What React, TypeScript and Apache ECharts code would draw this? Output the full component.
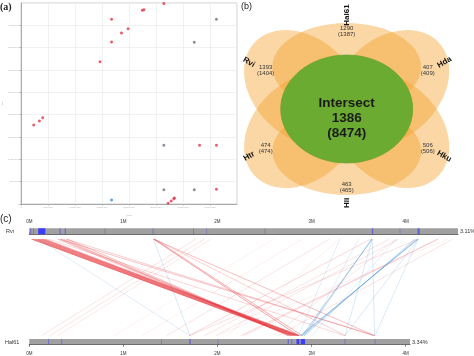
import React, { useEffect, useRef } from "react";
import * as echarts from "echarts";

// ---------- Panel (a): dot plot, [Hal61 position (bp), Rvi position (bp)] ----------
const dotForward: number[][] = [
  [2645000, 4490000], [2247000, 4337000], [2277000, 4350000], [1677000, 4135000],
  [1983000, 3925000], [1861000, 3828000], [1677000, 3627000], [1462000, 3186000],
  [401000, 1932000], [340000, 1858000], [235000, 1769000], [3307000, 1314000],
  [3619000, 1314000], [3619000, 329000], [2841000, 134000], [2829000, 119000],
  [2781000, 67000], [2725000, 16000],
];
const dotRepeat: number[][] = [
  [3619000, 4135000], [3209000, 3620000], [2645000, 1314000], [2645000, 320000], [3209000, 320000],
];
const dotReverse: number[][] = [[1677000, 90000]];

// ---------- Panel (b): Venn / flower ----------
const vennSets = ["Hal61", "Hda", "Hku", "Hli", "Htr", "Rvi"];
const vennUnique = [1290, 407, 506, 463, 474, 1393];
const vennTotal = [1387, 409, 506, 465, 474, 1404];
const coreLabel = "Intersect";
const coreCount = 1386;
const coreTotal = 8474;

// ---------- Panel (c): synteny between Rvi and Hal61 (Mb) ----------
const rviLength = 4.556;
const hal61Length = 4.046;
const rviPercent = "3.11%";
const hal61Percent = "3.34%";
const rulerTicks = ["0M", "1M", "2M", "3M", "4M"];
// [start, end, intensity] : 0 = darker grey tick, >0 = blue feature
const rviMarks: number[][] = [
  [0.005, 0.02, 0.45], [0.04, 0.05, 0.45], [0.095, 0.17, 1], [0.32, 0.335, 0.45],
  [0.375, 0.39, 0.45], [0.8, 0.805, 0], [1.31, 1.322, 0.35], [1.74, 1.75, 0.4],
  [1.88, 1.89, 0.3], [2.5, 2.505, 0], [3.64, 3.655, 0.6], [3.935, 3.945, 0.3],
  [4.125, 4.15, 0.6],
];
const hal61Marks: number[][] = [
  [0.2, 0.21, 0.5], [0.34, 0.35, 0.5], [1.4, 1.405, 0], [1.70, 1.715, 0.6], [2.0, 2.01, 0.3],
  [2.745, 2.76, 0.5], [2.785, 2.795, 0.5], [2.84, 2.87, 1], [2.885, 2.93, 1],
  [3.35, 3.36, 0.4], [3.67, 3.68, 0.4],
];
// [Rvi position, Hal61 position, strand (1 forward / -1 inverted), opacity]
const links: number[][] = [
  [0.02, 2.80, 1, 0.75], [0.03, 2.79, 1, 0.6], [0.045, 2.82, 1, 0.7], [0.06, 2.81, 1, 0.55],
  [0.075, 2.84, 1, 0.75], [0.09, 2.83, 1, 0.55], [0.105, 2.85, 1, 0.65], [0.12, 2.86, 1, 0.6],
  [0.135, 2.87, 1, 0.7], [0.15, 2.855, 1, 0.5], [0.165, 2.88, 1, 0.6],
  [0.30, 2.76, 1, 0.5], [0.33, 2.78, 1, 0.55], [0.36, 2.75, 1, 0.45], [0.40, 2.77, 1, 0.5],
  [0.32, 3.67, 1, 0.45], [0.39, 3.67, 1, 0.4], [0.2, 3.355, 1, 0.3],
  [1.318, 2.86, 1, 0.7], [1.33, 2.90, 1, 0.6], [1.318, 3.67, 1, 0.5], [1.325, 3.36, 1, 0.35],
  [1.77, 0.13, 1, 0.22], [1.86, 0.22, 1, 0.22], [1.93, 0.30, 1, 0.18], [3.19, 1.46, 1, 0.22],
  [3.63, 1.70, 1, 0.3], [4.135, 1.70, 1, 0.25], [3.83, 1.86, 1, 0.22], [3.93, 1.98, 1, 0.22],
  [4.34, 2.25, 1, 0.3], [4.35, 2.28, 1, 0.25], [4.5, 2.645, 1, 0.22], [3.9, 2.6, 1, 0.18],
  [4.45, 2.0, 1, 0.12], [2.9, 1.2, 1, 0.12], [2.6, 0.9, 1, 0.1], [3.3, 2.1, 1, 0.12],
  [3.645, 2.90, -1, 0.6], [3.64, 2.92, -1, 0.5], [3.645, 3.355, -1, 0.3], [3.645, 3.67, -1, 0.3],
  [4.134, 2.88, -1, 0.75], [4.12, 2.90, -1, 0.6], [4.10, 2.92, -1, 0.5], [4.134, 3.355, -1, 0.3],
  [4.134, 3.674, -1, 0.3], [0.09, 1.708, -1, 0.25], [1.318, 1.708, -1, 0.3],
  [3.5, 2.95, -1, 0.22], [3.9, 3.0, -1, 0.22], [3.3, 2.86, -1, 0.25],
];

const SANS = "'Liberation Sans', Arial, sans-serif";

function buildVenn(): any[] {
  const cx = 346.7, cy = 109, sx = 1.2;
  const angles = [90, 30, -30, -90, -150, 150];
  const nameRot = [90, 30, -30, 90, 30, -30];
  const d = 42, a = 62, b = 44;
  const petals = angles.map((deg) => {
    const t = (deg * Math.PI) / 180;
    return {
      type: "ellipse",
      x: d * Math.cos(t),
      y: -d * Math.sin(t),
      rotation: Math.PI / 2 - t,
      shape: { cx: 0, cy: 0, rx: a, ry: b },
      style: { fill: "rgba(244,160,40,0.42)" },
    };
  });
  const group = {
    type: "group",
    x: cx,
    y: cy,
    scaleX: sx,
    scaleY: 1,
    children: [
      ...petals,
      { type: "ellipse", shape: { cx: 0, cy: 0, rx: 55, ry: 54 }, style: { fill: "#6cab31", stroke: "#62a02a", lineWidth: 0.6 } },
    ],
  };
  const texts: any[] = [];
  angles.forEach((deg, i) => {
    const t = (deg * Math.PI) / 180;
    const px = cx + sx * 78 * Math.cos(t);
    const py = cy - 78 * Math.sin(t);
    texts.push({
      type: "text", x: px, y: py - 3.2,
      style: { text: String(vennUnique[i]), fill: "#333", font: `6px ${SANS}`, align: "center", verticalAlign: "middle" },
    });
    texts.push({
      type: "text", x: px, y: py + 3.2,
      style: { text: `(${vennTotal[i]})`, fill: "#333", font: `6px ${SANS}`, align: "center", verticalAlign: "middle" },
    });
    const nx = cx + sx * 94 * Math.cos(t);
    const ny = cy - 94 * Math.sin(t);
    texts.push({
      type: "text", x: nx, y: ny, rotation: (nameRot[i] * Math.PI) / 180,
      style: { text: vennSets[i], fill: "#111", font: `bold 8px ${SANS}`, align: "center", verticalAlign: "middle" },
    });
  });
  const core = [coreLabel, String(coreCount), `(${coreTotal})`].map((s, i) => ({
    type: "text", x: cx, y: 102 + i * 15.3,
    style: { text: s, fill: "#1b1b1b", font: `bold 13.5px ${SANS}`, align: "center", verticalAlign: "middle" },
  }));
  return [group, ...texts, ...core];
}

function trackItem(params: any, api: any) {
  const s = api.coord([api.value(0), 0]);
  const e = api.coord([api.value(1), 1]);
  const k = api.value(2);
  let fill = "#a0a0a0";
  if (k === 0) fill = "#808080";
  else if (k > 0) fill = `rgba(60,60,250,${k})`;
  return {
    type: "rect",
    shape: { x: s[0], y: e[1], width: Math.max(e[0] - s[0], 0.8), height: s[1] - e[1] },
    style: { fill },
  };
}

export default function App() {
  const ref = useRef<HTMLDivElement>(null);
  useEffect(() => {
    const chart = echarts.init(ref.current!, null, { renderer: "svg" });
    const tinyLabel = { fontSize: 2.5, color: "#aaa", margin: 2, showMaxLabel: false };
    const rulerLabel = (v: number) => (Number.isInteger(v) && v < rulerTicks.length ? rulerTicks[v] : "");
    const option: any = {
      animation: false,
      textStyle: { fontFamily: SANS },
      grid: [
        { left: 19.5, top: 3, width: 217.5, height: 201, show: true, borderColor: "#cfcfcf", borderWidth: 1 },
        { left: 29.3, top: 228.3, width: 428.7, height: 6 },
        { left: 29.3, top: 239, width: 428.7, height: 96.7 },
        { left: 29.3, top: 339, width: 380.7, height: 5.3 },
      ],
      xAxis: [
        {
          gridIndex: 0, type: "value", min: 0, max: 4000000, interval: 500000,
          name: "Hal61", nameLocation: "middle", nameGap: 8, nameTextStyle: { fontSize: 2.5, color: "#aaa" },
          axisLine: { lineStyle: { color: "#9a9a9a", width: 0.8 } },
          axisTick: { show: true, length: 1.5, lineStyle: { color: "#aaa" } },
          axisLabel: tinyLabel,
          splitLine: { lineStyle: { color: "#eeeeee", width: 0.8 } },
        },
        {
          gridIndex: 1, type: "value", position: "top", offset: 2.6, min: 0, max: rviLength, interval: 1,
          axisLine: { lineStyle: { color: "#333", width: 0.8 } },
          axisTick: { show: true, length: 2.5, lineStyle: { color: "#333", width: 0.6 } },
          axisLabel: { fontSize: 4.5, color: "#333", margin: 1.5, formatter: rulerLabel, showMaxLabel: false },
          splitLine: { show: false },
        },
        { gridIndex: 2, type: "value", min: 0, max: rviLength, show: false },
        {
          gridIndex: 3, type: "value", position: "bottom", offset: 4.7, min: 0, max: hal61Length, interval: 1,
          axisLine: { lineStyle: { color: "#333", width: 0.8 } },
          axisTick: { show: true, length: 2.5, lineStyle: { color: "#333", width: 0.6 } },
          axisLabel: { fontSize: 4.5, color: "#333", margin: 2, formatter: rulerLabel, showMaxLabel: false },
          splitLine: { show: false },
        },
      ],
      yAxis: [
        {
          gridIndex: 0, type: "value", min: 0, max: 4500000, interval: 500000,
          name: "Rvi", nameLocation: "middle", nameGap: 15, nameRotate: 90, nameTextStyle: { fontSize: 2.5, color: "#aaa" },
          axisLine: { show: true, lineStyle: { color: "#9a9a9a", width: 0.8 } },
          axisTick: { show: true, length: 1.5, lineStyle: { color: "#aaa" } },
          axisLabel: tinyLabel,
          splitLine: { lineStyle: { color: "#eeeeee", width: 0.8 } },
        },
        { gridIndex: 1, type: "value", min: 0, max: 1, show: false },
        { gridIndex: 2, type: "value", min: 0, max: 1, show: false },
        { gridIndex: 3, type: "value", min: 0, max: 1, show: false },
      ],
      series: [
        {
          type: "scatter", xAxisIndex: 0, yAxisIndex: 0, data: dotForward, symbolSize: 3,
          itemStyle: { color: "#e2384a" }, silent: true,
        },
        {
          type: "scatter", xAxisIndex: 0, yAxisIndex: 0, data: dotRepeat, symbolSize: 3,
          itemStyle: { color: "#7b6b85" }, silent: true,
        },
        {
          type: "scatter", xAxisIndex: 0, yAxisIndex: 0, data: dotReverse, symbolSize: 3,
          itemStyle: { color: "#3d8fd6" }, silent: true,
        },
        {
          type: "lines", coordinateSystem: "cartesian2d", xAxisIndex: 2, yAxisIndex: 2, silent: true,
          lineStyle: { width: 0.6 },
          data: links.map(([r, h, s, o]) => ({
            coords: [[r, 1], [h, 0]],
            lineStyle: { color: s > 0 ? "#e3262d" : "#2f86d1", opacity: o, width: 0.6 },
          })),
        },
        {
          type: "custom", xAxisIndex: 1, yAxisIndex: 1, silent: true, renderItem: trackItem,
          data: [[0, rviLength, -1], ...rviMarks],
        },
        {
          type: "custom", xAxisIndex: 3, yAxisIndex: 3, silent: true, renderItem: trackItem,
          data: [[0, hal61Length, -1], ...hal61Marks],
        },
      ],
      graphic: {
        elements: [
          ...buildVenn(),
          { type: "text", x: 0, y: 6, style: { text: "(a)", fill: "#222", font: "bold 10px 'Liberation Serif', serif", verticalAlign: "middle" } },
          { type: "text", x: 241, y: 6, style: { text: "(b)", fill: "#222", font: `9px ${SANS}`, verticalAlign: "middle" } },
          { type: "text", x: 0, y: 218, style: { text: "(c)", fill: "#222", font: `10px ${SANS}`, verticalAlign: "middle" } },
          { type: "text", x: 6, y: 231.3, style: { text: "Rvi", fill: "#333", font: `5.5px ${SANS}`, verticalAlign: "middle" } },
          { type: "text", x: 460, y: 231.3, style: { text: rviPercent, fill: "#333", font: `5.5px ${SANS}`, verticalAlign: "middle" } },
          { type: "text", x: 5, y: 341.7, style: { text: "Hal61", fill: "#333", font: `5.5px ${SANS}`, verticalAlign: "middle" } },
          { type: "text", x: 412, y: 341.7, style: { text: hal61Percent, fill: "#333", font: `5.5px ${SANS}`, verticalAlign: "middle" } },
        ],
      },
    };
    chart.setOption(option);
    return () => chart.dispose();
  }, []);
  return <div ref={ref} style={{ position: "fixed", left: 0, top: 0, width: 474, height: 356 }} />;
}
